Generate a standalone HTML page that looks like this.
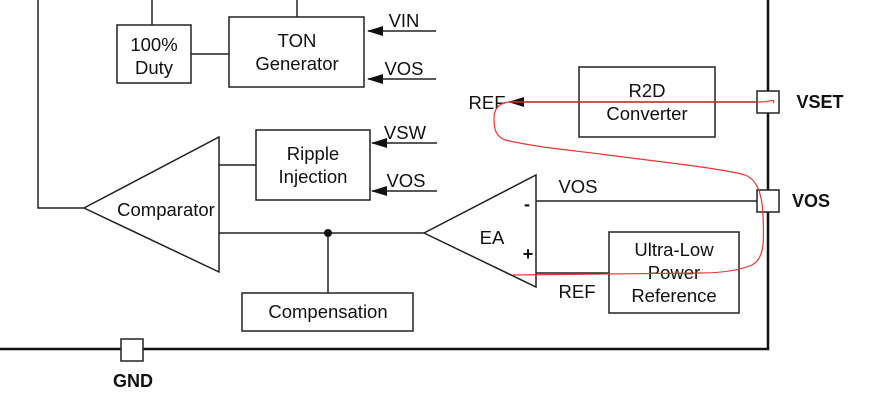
<!DOCTYPE html>
<html><head><style>
html,body{margin:0;padding:0;background:#fff;}
svg{display:block;}
text{font-family:"Liberation Sans",sans-serif;fill:#111;}
</style></head><body>
<svg width="892" height="408" viewBox="0 0 892 408" xmlns="http://www.w3.org/2000/svg">
<defs>
<marker id="ah" markerWidth="16" markerHeight="10" refX="15" refY="5" orient="auto" markerUnits="userSpaceOnUse">
<path d="M0,0 L16,5 L0,10 z" fill="#111"/>
</marker>
</defs>
<g stroke="#222" stroke-width="1.5" fill="none">
<polyline points="38,0 38,208 84,208"/>
<rect x="117" y="25" width="74" height="58" fill="#fff"/>
<line x1="152" y1="0" x2="152" y2="25"/>
<line x1="191" y1="54" x2="229" y2="54"/>
<rect x="229" y="17" width="135" height="70" fill="#fff"/>
<line x1="297" y1="0" x2="297" y2="17"/>
<line x1="436" y1="31" x2="368" y2="31" marker-end="url(#ah)"/>
<line x1="436" y1="79" x2="368" y2="79" marker-end="url(#ah)"/>
<rect x="256" y="130" width="114" height="70" fill="#fff"/>
<line x1="219" y1="165" x2="256" y2="165"/>
<line x1="437" y1="143" x2="372" y2="143" marker-end="url(#ah)"/>
<line x1="437" y1="191" x2="372" y2="191" marker-end="url(#ah)"/>
<polygon points="84,208 219,137 219,272" fill="#fff"/>
<line x1="219" y1="233" x2="424" y2="233"/>
<line x1="328" y1="233" x2="328" y2="293"/>
<rect x="242" y="293" width="171" height="38" fill="#fff"/>
<polygon points="424,233 536,175 536,287" fill="#fff"/>
<line x1="536" y1="201" x2="757" y2="201"/>
<line x1="536" y1="273" x2="609" y2="273"/>
<rect x="609" y="232" width="130" height="81" fill="#fff"/>
<rect x="579" y="67" width="136" height="70" fill="#fff"/>
<line x1="757" y1="102" x2="509" y2="102" marker-end="url(#ah)"/>
<polyline points="768,0 768,349 0,349" stroke-width="2.5" stroke="#111"/>
<rect x="757" y="91" width="22" height="22" fill="#fff"/>
<rect x="757" y="190" width="22" height="22" fill="#fff"/>
<rect x="121" y="339" width="22" height="22" fill="#fff"/>
</g>
<circle cx="328" cy="233" r="4" fill="#111"/>
<g font-size="18.5" text-anchor="middle">
<text x="154" y="51">100%</text>
<text x="154" y="74">Duty</text>
<text x="297" y="47">TON</text>
<text x="297" y="70">Generator</text>
<text x="404" y="27">VIN</text>
<text x="404" y="75">VOS</text>
<text x="313" y="160">Ripple</text>
<text x="313" y="183">Injection</text>
<text x="405" y="139">VSW</text>
<text x="406" y="187">VOS</text>
<text x="166" y="216">Comparator</text>
<text x="328" y="318">Compensation</text>
<text x="492" y="244">EA</text>
<text x="578" y="193">VOS</text>
<text x="577" y="298">REF</text>
<text x="674" y="256">Ultra-Low</text>
<text x="674" y="279">Power</text>
<text x="674" y="302">Reference</text>
<text x="647" y="97">R2D</text>
<text x="647" y="120">Converter</text>
<text x="487" y="109">REF</text>
</g>
<g font-size="18" font-weight="bold" text-anchor="middle">
<text x="527" y="210">-</text>
<text x="528" y="260">+</text>
<text x="820" y="108">VSET</text>
<text x="811" y="207">VOS</text>
<text x="133" y="387">GND</text>
</g>
<path d="M773,103 C776,98 770,102 760,102 L508,102 C496,104 494,112 494,118 C494,128 495,136 505,140 C540,148 570,150 600,154 C660,162 720,168 745,175 C758,180 762,195 763,215 C764,240 765,258 752,265 C735,272 715,273 700,273 L513,275" stroke="#e33" stroke-width="1.2" fill="none"/>
</svg>
</body></html>
